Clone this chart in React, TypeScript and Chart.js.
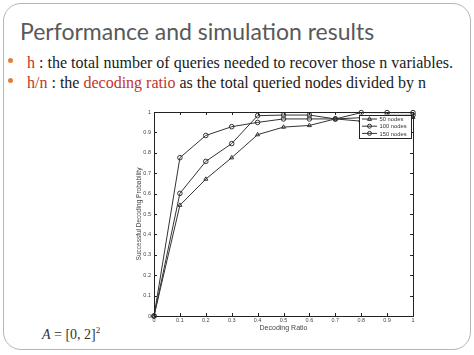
import React, { useEffect, useRef } from "react";
import { Chart, registerables } from "chart.js";

Chart.register(...registerables);

const xValues = [0, 0.1, 0.2, 0.3, 0.4, 0.5, 0.6, 0.7, 0.8, 0.9, 1.0];
const xTickLabels = ["0", "0.1", "0.2", "0.3", "0.4", "0.5", "0.6", "0.7", "0.8", "0.9", "1"];
const yTickValues = [0, 0.1, 0.2, 0.3, 0.4, 0.5, 0.6, 0.7, 0.8, 0.9, 1.0];
const yTickLabels = ["0", "0.1", "0.2", "0.3", "0.4", "0.5", "0.6", "0.7", "0.8", "0.9", "1"];
const seriesLabels = ["50 nodes", "100 nodes", "150 nodes"];
const seriesMarkers = ["triangle", "circle", "circle"];
const nodes50 = [0, 0.543, 0.671, 0.776, 0.889, 0.926, 0.934, 0.966, 0.972, 0.975, 0.974];
const nodes100 = [0, 0.601, 0.758, 0.845, 0.982, 0.985, 0.985, 0.966, 0.997, 0.997, 0.997];
const nodes150 = [0, 0.776, 0.885, 0.928, 0.949, 0.966, 0.966, 0.966, 0.955, 0.985, 0.985];
const xTitle = "Decoding Ratio";
const yTitle = "Successful Decoding Probability";

const LINE = "#333333";
const FONT = "'Liberation Sans', Arial, sans-serif";

function drawMarker(ctx: CanvasRenderingContext2D, style: string, x: number, y: number, r: number) {
  ctx.beginPath();
  if (style === "triangle") {
    ctx.moveTo(x, y - r * 1.15);
    ctx.lineTo(x + r, y + r * 0.7);
    ctx.lineTo(x - r, y + r * 0.7);
    ctx.closePath();
  } else {
    ctx.arc(x, y, r, 0, Math.PI * 2);
  }
  ctx.stroke();
}

const framePlugin = {
  id: "matlabFrame",
  afterDatasetsDraw(chart: any) {
    const { ctx, chartArea } = chart;
    const xs = chart.scales.x;
    const ys = chart.scales.y;
    ctx.save();
    ctx.strokeStyle = "#222";
    ctx.lineWidth = 1;
    ctx.strokeRect(chartArea.left + 0.5, chartArea.top + 0.5, chartArea.right - chartArea.left, chartArea.bottom - chartArea.top);
    const t = 3;
    ctx.beginPath();
    xValues.forEach((v) => {
      const px = Math.round(xs.getPixelForValue(v)) + 0.5;
      ctx.moveTo(px, chartArea.bottom);
      ctx.lineTo(px, chartArea.bottom - t);
      ctx.moveTo(px, chartArea.top);
      ctx.lineTo(px, chartArea.top + t);
    });
    yTickValues.forEach((v) => {
      const py = Math.round(ys.getPixelForValue(v)) + 0.5;
      ctx.moveTo(chartArea.left, py);
      ctx.lineTo(chartArea.left + t, py);
      ctx.moveTo(chartArea.right, py);
      ctx.lineTo(chartArea.right - t, py);
    });
    ctx.stroke();

    // legend box (MATLAB-style, inside top-right)
    const bw = 52, rowH = 7.2, bh = 23;
    const bx = chartArea.right - bw - 2;
    const by = chartArea.top + 2.5;
    ctx.fillStyle = "#fff";
    ctx.fillRect(bx, by, bw, bh);
    ctx.strokeStyle = "#222";
    ctx.strokeRect(Math.round(bx) + 0.5, Math.round(by) + 0.5, bw, bh);
    ctx.font = "5.8px " + FONT;
    ctx.textBaseline = "middle";
    ctx.textAlign = "left";
    seriesLabels.forEach((lab, i) => {
      const cy = by + 4.5 + i * rowH;
      ctx.strokeStyle = LINE;
      ctx.beginPath();
      ctx.moveTo(bx + 3, cy);
      ctx.lineTo(bx + 18, cy);
      ctx.stroke();
      drawMarker(ctx, seriesMarkers[i], bx + 10.5, cy, 2);
      ctx.fillStyle = "#333";
      ctx.fillText(lab, bx + 20.5, cy + 0.5);
    });
    ctx.restore();
  },
};

function ChartBox() {
  const ref = useRef<HTMLCanvasElement | null>(null);
  useEffect(() => {
    if (!ref.current) return;
    const series = [nodes50, nodes100, nodes150];
    const chart = new Chart(ref.current, {
      type: "line",
      data: {
        datasets: series.map((s, i) => ({
          label: seriesLabels[i],
          data: s.map((v, j) => ({ x: xValues[j], y: v })),
          borderColor: LINE,
          borderWidth: 1,
          pointStyle: seriesMarkers[i] as any,
          pointRadius: 2.3,
          pointBorderWidth: 1,
          pointBorderColor: LINE,
          pointBackgroundColor: "rgba(255,255,255,0)",
          tension: 0,
          clip: false as any,
        })),
      },
      options: {
        animation: false,
        responsive: false,
        maintainAspectRatio: false,
        layout: { padding: { top: 8, right: 12, left: 10, bottom: 8 } },
        plugins: { legend: { display: false }, tooltip: { enabled: false } },
        scales: {
          x: {
            type: "linear",
            min: 0,
            max: 1,
            afterBuildTicks: (s: any) => {
              s.ticks = xValues.map((v) => ({ value: v }));
            },
            ticks: {
              callback: (_v: any, i: number) => xTickLabels[i],
              font: { size: 5.5, family: FONT },
              color: "#444",
              padding: 1.5,
              maxRotation: 0,
              autoSkip: false,
            },
            grid: { display: false, drawTicks: false },
            border: { display: false },
            title: {
              display: true,
              text: xTitle,
              font: { size: 7, family: FONT },
              color: "#444",
              padding: 0,
            },
            afterFit: (s: any) => {
              s.height = 16;
            },
          },
          y: {
            type: "linear",
            min: 0,
            max: 1,
            afterBuildTicks: (s: any) => {
              s.ticks = yTickValues.map((v) => ({ value: v }));
            },
            ticks: {
              callback: (_v: any, i: number) => yTickLabels[i],
              font: { size: 5.5, family: FONT },
              color: "#444",
              padding: 3,
              autoSkip: false,
            },
            grid: { display: false, drawTicks: false },
            border: { display: false },
            title: {
              display: true,
              text: yTitle,
              font: { size: 6.5, family: FONT },
              color: "#444",
              padding: 0,
            },
            afterFit: (s: any) => {
              s.width = 19;
            },
          },
        },
      },
      plugins: [framePlugin],
    });
    return () => chart.destroy();
  }, []);
  return (
    <canvas
      ref={ref}
      width={300}
      height={236}
      style={{ position: "absolute", left: 125, top: 104, width: 300, height: 236 }}
    />
  );
}

const red = "#c0352b";
const bulletStyle: React.CSSProperties = {
  position: "absolute",
  left: 27,
  fontFamily: "'Liberation Serif', 'Times New Roman', serif",
  fontSize: 16,
  lineHeight: "16px",
  color: "#1a1a1a",
  whiteSpace: "nowrap",
};

function Dot({ top }: { top: number }) {
  return (
    <div
      style={{
        position: "absolute",
        left: 8,
        top,
        width: 5,
        height: 5,
        borderRadius: "50%",
        background: "#e0803a",
      }}
    />
  );
}

export default function App() {
  return (
    <div style={{ position: "fixed", left: 0, top: 0, width: 474, height: 355, background: "#fff", overflow: "hidden" }}>
      <div
        style={{
          position: "absolute",
          left: 3,
          top: 3,
          width: 466,
          height: 345,
          border: "1.5px solid #b5b5b5",
          borderRadius: 18,
        }}
      />
      <div
        style={{
          position: "absolute",
          left: 20,
          top: 20,
          fontFamily: "Lato, 'Open Sans', sans-serif",
          fontSize: 23,
          lineHeight: "23px",
          color: "#595959",
          whiteSpace: "nowrap",
        }}
      >
        Performance and simulation results
      </div>
      <Dot top={58} />
      <div style={{ ...bulletStyle, top: 55 }}>
        <span style={{ color: red }}>h</span> : the total number of queries needed to recover those n variables.
      </div>
      <Dot top={78} />
      <div style={{ ...bulletStyle, top: 75 }}>
        <span style={{ color: red }}>h/n</span> : the <span style={{ color: red }}>decoding ratio</span> as the total queried nodes divided by n
      </div>
      <div
        style={{
          position: "absolute",
          left: 42,
          top: 323,
          fontFamily: "'Liberation Serif', 'Times New Roman', serif",
          fontSize: 14,
          lineHeight: "14px",
          color: "#333",
          whiteSpace: "nowrap",
        }}
      >
        <i>A</i> = [0, 2]<sup style={{ fontSize: 9 }}>2</sup>
      </div>
      <ChartBox />
    </div>
  );
}
